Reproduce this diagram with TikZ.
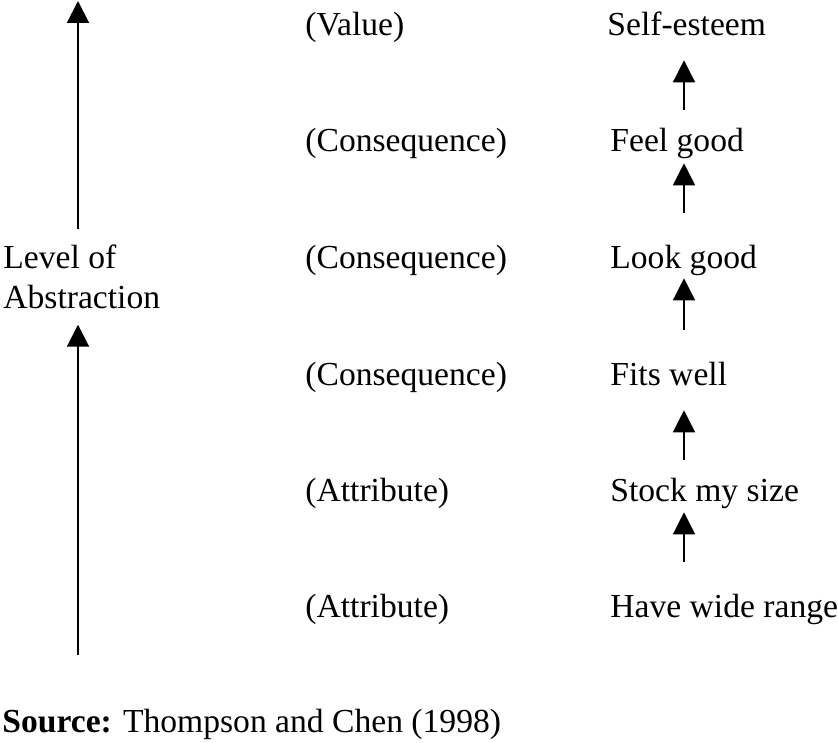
\documentclass[tikz,border=0pt]{standalone}
\usepackage{fontspec}
\setmainfont{Liberation Serif}
\usetikzlibrary{positioning}
\usetikzlibrary{calc}
\usetikzlibrary{arrows.meta}

\begin{document}
\begin{tikzpicture}[
    x=0.5pt, y=-0.5pt, % one unit is one pixel of the layout, y going down
    ]
% -------------------------------------------------
\tikzset{
  base/.style={anchor=base west, inner sep=0pt, font=\fontsize{16.8}{19.5}\selectfont},
  kind/.style={base, text height=11.8pt, text depth=4.2pt},
  item/.style={base, text height=11.8pt, text depth=4.2pt},
  line/.style={draw, line width=0.75pt, -{Triangle[width=11pt, length=11pt]}},
  axis/.style={draw, line width=1pt, -{Triangle[width=11pt, length=11pt]}}
}
% -------------------------------------------------
\useasboundingbox (0,0) rectangle (838,742);

% Placing the nodes
\node[base, align=left] (level) at (3,308) {Level of\\Abstraction};
\coordinate (top) at (78,1);
\coordinate (bot) at (78,655);
\coordinate (ax) at (684,0);

\node[kind] (k0) at (305,36)  {(Value)};
\node[kind] (k1) at (305,152) {(Consequence)};
\node[kind] (k2) at (305,269) {(Consequence)};
\node[kind] (k3) at (305,385) {(Consequence)};
\node[kind] (k4) at (305,501) {(Attribute)};
\node[kind] (k5) at (305,617) {(Attribute)};

\node[item] (i0) at (607,36)  {Self-esteem};
\node[item] (i1) at (610,152) {Feel good};
\node[item] (i2) at (610,269) {Look good};
\node[item] (i3) at (610,385) {Fits well};
\node[item] (i4) at (610,501) {Stock my size};
\node[item] (i5) at (610,617) {Have wide range};

\node[base] (src) at (2,732) {\textbf{Source:} Thompson and Chen (1998)};

% Level of abstraction
\path [axis, shorten <=8pt] (level.north -| top) -- (top);
\path [axis, shorten >=8pt] (bot) -- (level.south -| bot);

% Ladder
\path [line, shorten <=9pt,  shorten >=7.75pt] (i1.north -| ax) -- (i0.south -| ax);
\path [line, shorten <=16pt, shorten >=1.25pt] (i2.north -| ax) -- (i1.south -| ax);
\path [line, shorten <=15.5pt, shorten >=0.25pt] (i3.north -| ax) -- (i2.south -| ax);
\path [line, shorten <=8.5pt, shorten >=8.25pt] (i4.north -| ax) -- (i3.south -| ax);
\path [line, shorten <=15.5pt, shorten >=1.25pt] (i5.north -| ax) -- (i4.south -| ax);

\end{tikzpicture}
\end{document}
